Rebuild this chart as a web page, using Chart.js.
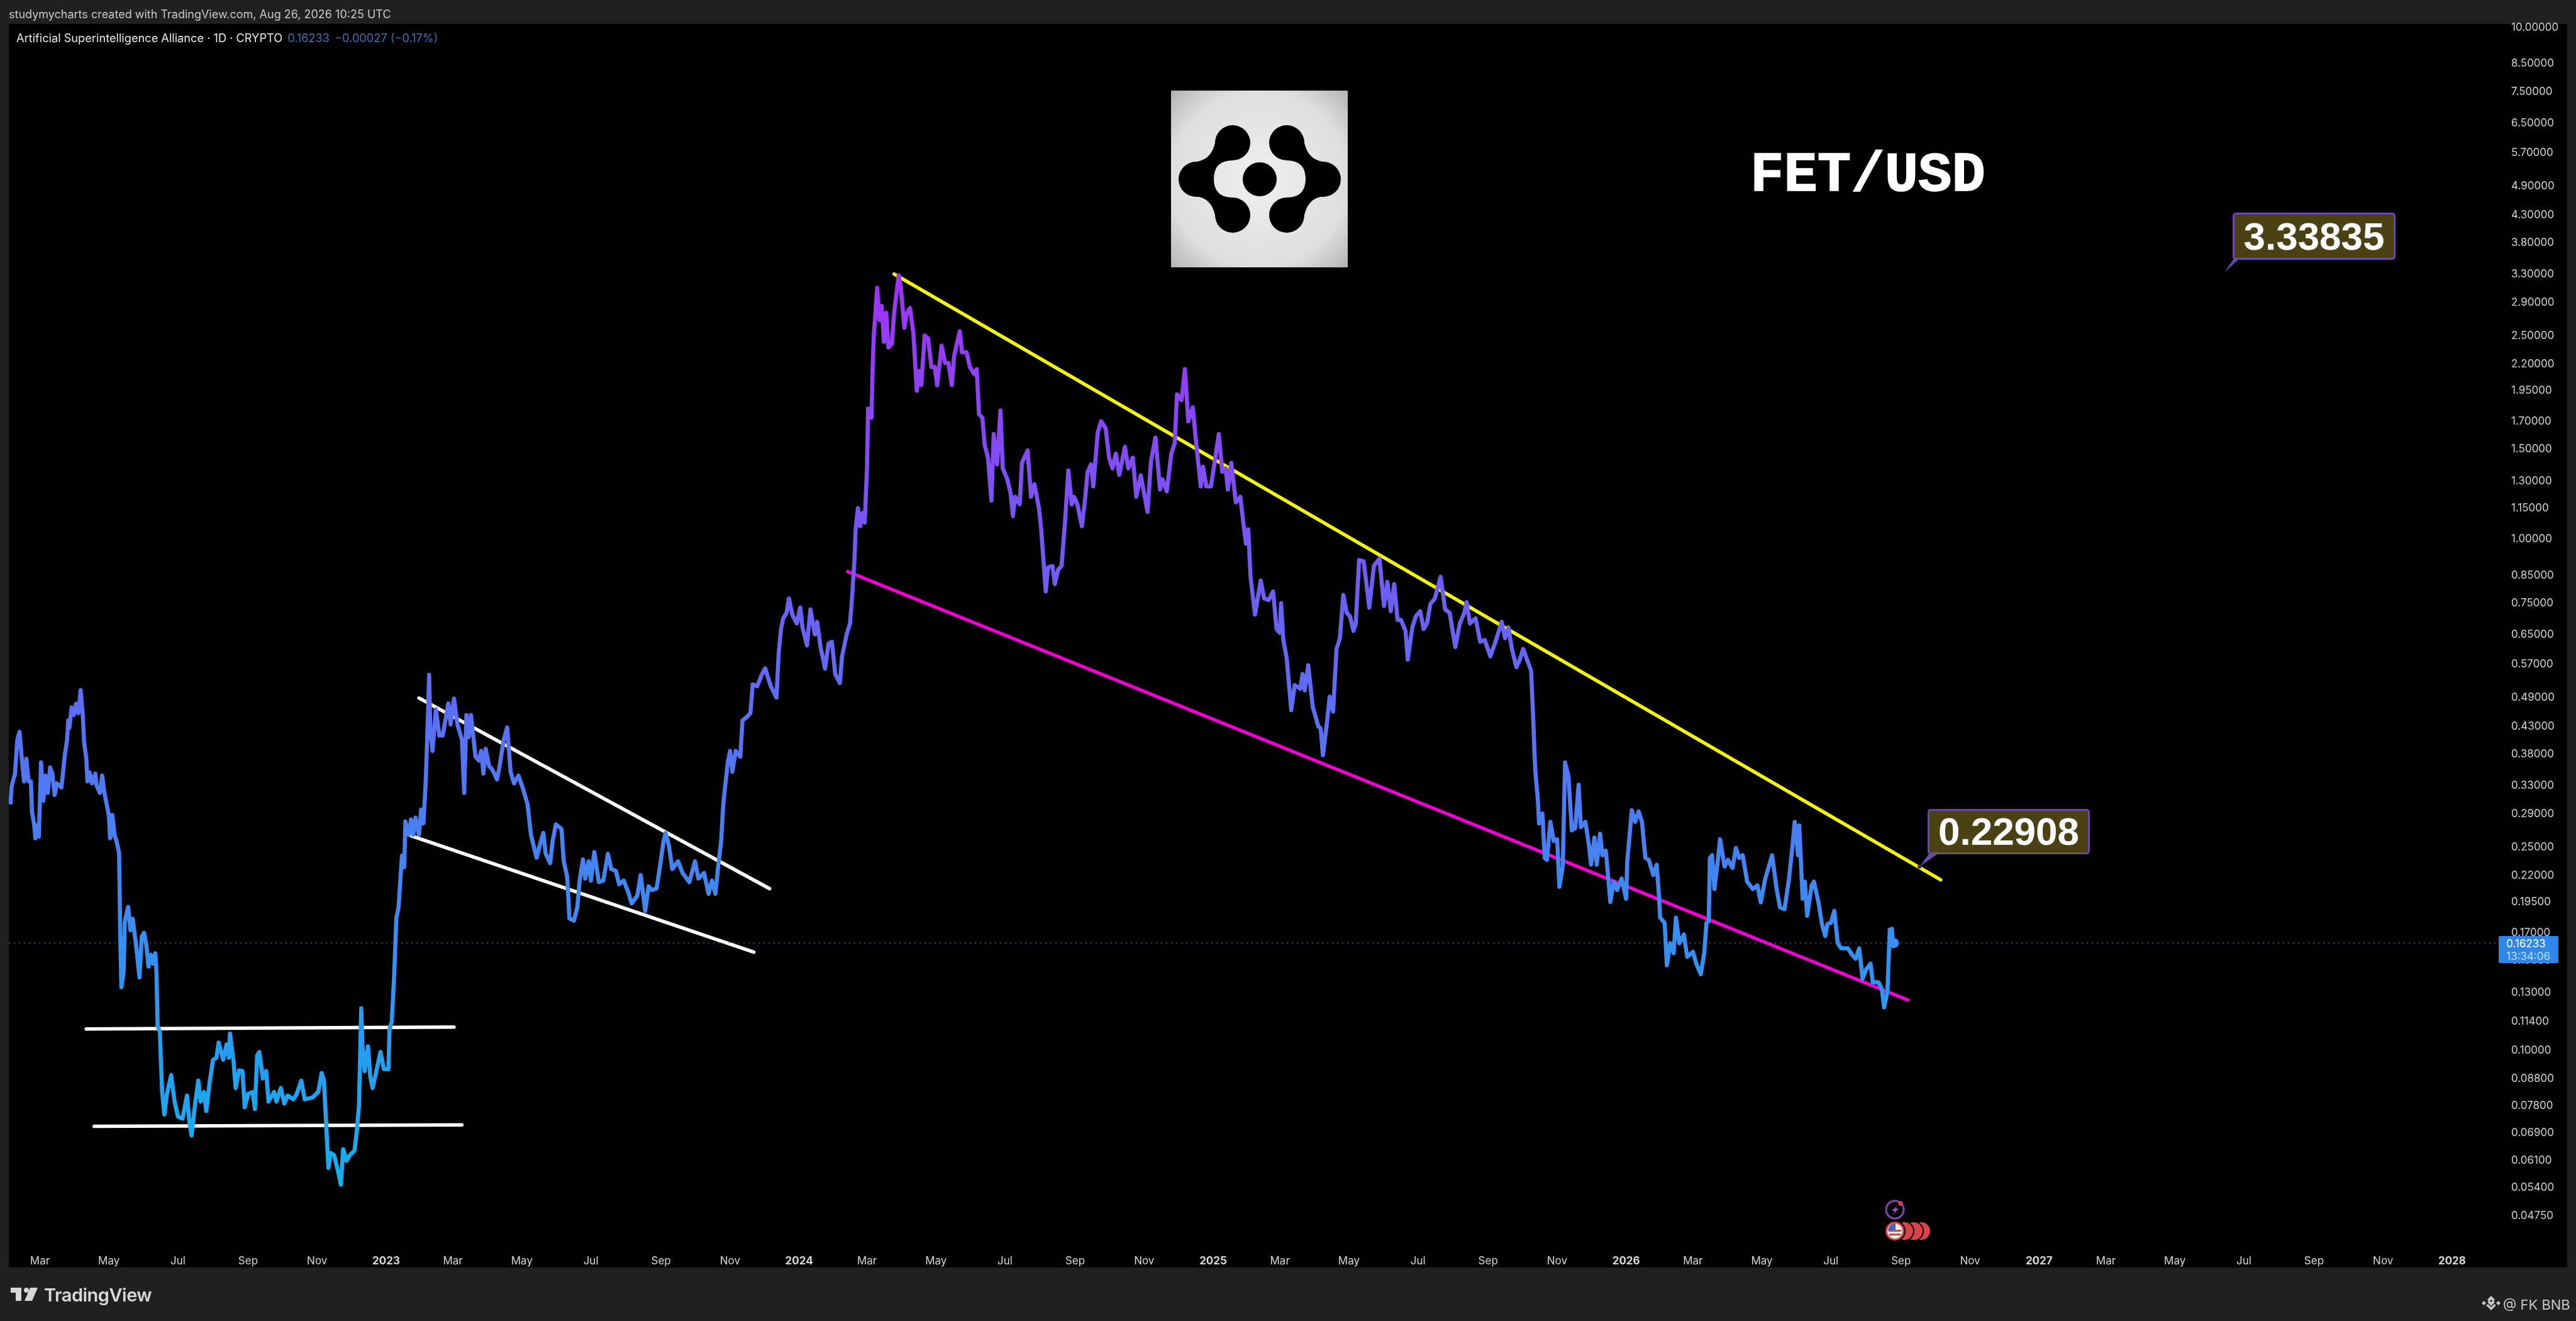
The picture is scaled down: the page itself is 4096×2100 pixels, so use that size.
<!DOCTYPE html>
<html>
<head>
<meta charset="utf-8">
<title>FET/USD</title>
<script src="https://cdn.jsdelivr.net/npm/chart.js@4/dist/chart.umd.min.js"></script>
<style>
    html, body { margin: 0; padding: 0; background: #202020; width: 4096px; height: 2100px; overflow: hidden; font-family: 'Inter', sans-serif; }
    #panel { position: absolute; left: 14px; top: 38px; width: 4068px; height: 1977px; background: #000; }
    #priceChart { position: absolute; left: 0; top: 0; }
    .txt { position: absolute; white-space: nowrap; }
    #createdBy { left: 14px; top: 12px; font-size: 18px; color: #c9c9c9; }
    #legend { left: 26px; top: 49px; font-size: 18.2px; color: #e8e8e8; }
    #legend span { color: #3f6fb4; margin-left: 8px; }
    #pairTitle { left: 2783px; top: 229px; font-family: 'Liberation Mono', monospace; font-weight: 700; font-size: 89px; color: #fff; -webkit-text-stroke: 1.5px #fff; }
    .callout { position: absolute; box-sizing: border-box; background: #4a4114; border: 3px solid #6a48a8; border-radius: 5px; color: #fff; font-family: 'Liberation Sans', sans-serif; font-weight: 700; font-size: 62px; text-align: center; }
    #calloutLow { left: 3065px; top: 1286px; width: 258px; height: 72px; line-height: 66px; }
    #calloutHigh { left: 3550px; top: 338px; width: 259px; height: 75px; line-height: 69px; }
    #priceTag { position: absolute; left: 3973px; top: 1488px; width: 95px; height: 43px; background: #2f86e8; border-radius: 2px; font-size: 17px; line-height: 20px; color: #fff; padding-left: 12px; box-sizing: border-box; padding-top: 2px; }
    #priceTag div + div { color: #bcdcff; }
    #tvName { left: 70px; top: 2041px; font-size: 29px; font-weight: 600; color: #d8d8d8; letter-spacing: -0.5px; }
    #credit { left: 3980px; top: 2061px; font-size: 22px; color: #c8c8c8; }
    svg.overlay { position: absolute; left: 0; top: 0; }
</style>
</head>
<body>
<div id="panel"></div>
<canvas id="priceChart" width="4096" height="2100"></canvas>

<svg class="overlay" width="4096" height="2100" viewBox="0 0 4096 2100">
    <defs>
        <radialGradient id="logoBg" cx="50%" cy="50%" r="72%">
            <stop offset="0%" stop-color="#f0f0f0"/>
            <stop offset="70%" stop-color="#dedede"/>
            <stop offset="100%" stop-color="#b0b0b0"/>
        </radialGradient>
        <path id="logoArm" d="M70 83 Q64 110 40 113 L68 141 Q68 111 98 111 Z" fill="#000"/>
    </defs>
    <!-- logo -->
    <g transform="translate(1862 144)">
        <rect width="281" height="281" fill="url(#logoBg)"/>
        <use href="#logoArm"/>
        <use href="#logoArm" transform="translate(282 0) scale(-1 1)"/>
        <use href="#logoArm" transform="translate(0 281) scale(1 -1)"/>
        <use href="#logoArm" transform="translate(282 281) scale(-1 -1)"/>
        <g fill="#000">
            <circle cx="98" cy="83" r="28"/><circle cx="184" cy="83" r="28"/>
            <circle cx="98" cy="198" r="28"/><circle cx="184" cy="198" r="28"/>
            <circle cx="40" cy="141" r="28"/><circle cx="242" cy="141" r="28"/>
            <circle cx="141" cy="141" r="27"/>
        </g>
    </g>
    <!-- callout tails -->
    <polygon points="3052,1378 3068,1356 3083,1356" fill="#6a48a8"/>
    <circle cx="3052" cy="1378" r="3" fill="#3a2a70"/>
    <polygon points="3537,433 3552,411 3561,411" fill="#6a48a8"/>
    <!-- event icons -->
    <circle cx="3013" cy="1923" r="14" fill="#000" stroke="#8a45b0" stroke-width="3"/>
    <path d="M3018 1915 L3008 1925 L3013 1925 L3009 1932 L3019 1921 L3014 1921 Z" fill="#9a50c8"/>
    <circle cx="3022" cy="1913" r="3.5" fill="#e8404a"/>
    <g fill="#d9444a" stroke="#000" stroke-width="2">
        <circle cx="3055" cy="1957" r="15"/>
        <circle cx="3043" cy="1957" r="15"/>
        <circle cx="3028" cy="1957" r="15"/>
    </g>
    <circle cx="3013" cy="1957" r="16" fill="#d9444a" stroke="#000" stroke-width="2"/>
    <g>
        <circle cx="3013" cy="1957" r="12" fill="#f2e9e9"/>
        <rect x="3003" y="1955" width="20" height="3" fill="#d9444a"/>
        <rect x="3004" y="1961" width="18" height="3" fill="#d9444a"/>
        <path d="M3002 1956 A12 12 0 0 1 3014 1945 L3014 1956 Z" fill="#3a66c8"/>
    </g>
    <!-- TradingView mark -->
    <g fill="#d8d8d8">
        <path d="M17 2047 H34 V2068 H25 V2055 H17 Z"/>
        <circle cx="42" cy="2051" r="4"/>
        <path d="M48 2047 H60 L51 2068 H39 Z"/>
    </g>
    <!-- credit mark -->
    <g fill="#c8c8c8">
        <path d="M3961 2060 L3967 2066 L3964 2069 L3961 2066 L3958 2069 L3955 2066 Z"/>
        <path d="M3961 2076 L3955 2070 L3958 2067 L3961 2070 L3964 2067 L3967 2070 Z"/>
        <path d="M3961 2083 L3953 2075 L3956 2073 L3961 2078 L3966 2073 L3969 2075 Z"/>
        <rect x="3947" y="2069" width="5" height="5" transform="rotate(45 3949.5 2071.5)"/>
        <rect x="3970" y="2069" width="5" height="5" transform="rotate(45 3972.5 2071.5)"/>
    </g>
</svg>

<div id="createdBy" class="txt">studymycharts created with TradingView.com, Aug 26, 2026 10:25 UTC</div>
<div id="legend" class="txt">Artificial Superintelligence Alliance · 1D · CRYPTO<span>0.16233</span><span>−0.00027 (−0.17%)</span></div>
<div id="pairTitle" class="txt">FET/USD</div>
<div id="calloutLow" class="callout">0.22908</div>
<div id="calloutHigh" class="callout">3.33835</div>
<div id="priceTag"><div>0.16233</div><div>13:34:06</div></div>
<div id="tvName" class="txt">TradingView</div>
<div id="credit" class="txt">@ FK BNB</div>

<script>
// days counted from 2023-01-01, prices in USD
const days = [
    -332,-331,-328,-326,-324,-322,-320,-318,-316,-314,
    -313,-311,-310,-308,-307,-305,-303,-301,-299,-297,
    -295,-293,-291,-287,-284,-282,-281,-280,-278,-276,
    -274,-272,-270,-268,-267,-265,-264,-262,-260,-257,
    -256,-253,-251,-249,-247,-245,-244,-243,-242,-240,
    -238,-236,-235,-234,-232,-231,-230,-228,-226,-224,
    -222,-221,-218,-216,-214,-212,-210,-208,-206,-204,
    -203,-202,-200,-198,-196,-194,-190,-187,-184,-180,
    -176,-174,-172,-169,-166,-164,-161,-159,-156,-153,
    -150,-148,-144,-141,-139,-138,-135,-133,-130,-127,
    -125,-122,-118,-116,-114,-112,-109,-106,-104,-99,
    -97,-93,-90,-87,-82,-79,-75,-72,-65,-60,
    -57,-55,-53,-51,-49,-46,-42,-40,-38,-35,
    -32,-28,-26,-24,-22,-21,-19,-16,-14,-12,
    -9,-5,-2,2,3,5,7,8,9,11,
    14,16,17,20,22,24,26,29,31,33,
    35,37,38,39,41,44,47,50,55,57,
    60,63,67,69,71,73,75,79,82,84,
    86,88,91,94,98,100,104,107,110,113,
    117,121,125,128,133,136,139,141,145,147,
    150,155,157,160,162,166,169,171,174,176,
    179,181,184,188,192,196,199,203,206,210,
    214,217,222,225,229,232,235,239,242,245,
    247,250,253,258,262,268,273,276,281,285,
    288,291,294,296,298,299,302,304,306,309,
    313,315,319,322,324,328,332,335,340,345,
    347,349,351,354,356,359,363,366,368,372,
    375,379,381,384,388,391,394,397,401,403,
    407,410,412,414,415,417,419,421,423,425,
    426,429,430,431,434,436,438,440,442,444,
    447,449,453,455,458,460,463,466,469,471,
    473,476,479,482,485,487,491,494,497,500,
    502,507,509,513,516,520,522,524,527,529,
    532,535,537,540,543,545,549,552,554,556,
    560,562,567,570,573,577,579,583,585,589,
    591,594,597,600,603,606,608,611,615,618,
    620,623,625,629,632,636,639,642,645,648,
    653,656,660,663,667,673,676,680,684,686,
    690,694,697,699,703,706,709,713,715,720,
    722,725,729,732,736,739,742,744,747,751,
    755,758,760,762,764,768,773,776,780,784,
    787,790,791,793,796,800,803,808,810,812,
    815,819,824,826,828,831,834,837,840,843,
    846,849,852,855,857,860,864,869,873,878,
    882,885,888,891,894,897,901,903,907,910,
    914,917,920,923,927,932,936,940,945,949,
    953,955,958,963,967,971,976,980,986,989,
    992,995,999,1002,1005,1008,1012,1014,1015,1016,
    1018,1019,1022,1024,1026,1029,1032,1035,1037,1040,
    1042,1045,1048,1051,1054,1056,1060,1063,1065,1068,
    1070,1073,1075,1078,1080,1082,1085,1088,1092,1096,
    1097,1101,1104,1107,1110,1113,1116,1120,1123,1125,
    1126,1130,1132,1135,1138,1140,1143,1147,1150,1155,
    1158,1162,1165,1167,1169,1170,1172,1174,1177,1179,
    1183,1186,1190,1193,1196,1199,1203,1208,1212,1215,
    1219,1225,1229,1232,1236,1240,1243,1245,1248,1249,
    1252,1254,1256,1260,1262,1266,1269,1272,1274,1277,
    1280,1283,1286,1292,1296,1299,1302,1305,1308,1312,
    1314,1319,1322,1324,1327,1329,1330,1331,1332,1333
];

const prices = [
    .303,.329,.348,.405,.420,.372,.336,.372,.336,.336,
    .293,.276,.260,.276,.262,.366,.308,.345,.319,.358,
    .348,.316,.333,.327,.378,.405,.442,.427,.469,.453,
    .477,.457,.507,.449,.402,.372,.336,.350,.333,.348,
    .330,.319,.345,.319,.303,.288,.260,.264,.289,.264,
    .255,.243,.169,.133,.1425,.178,.183,.191,.172,.181,
    .167,.161,.139,.167,.170,.161,.146,.154,.148,.155,
    .1425,.112,.1085,.083,.075,.0817,.0896,.0795,.0743,.0736,
    .0817,.073,.0682,.0782,.0874,.0795,.083,.0762,.0866,.096,
    .0968,.1037,.096,.1029,.0968,.108,.096,.0845,.0915,.0912,
    .0775,.0823,.083,.0769,.0978,.0994,.0882,.0912,.0795,.083,
    .0795,.0845,.0788,.0817,.0803,.0823,.0874,.0803,.081,.083,
    .0904,.0874,.0718,.059,.0631,.0625,.0574,.0547,.0642,.0609,
    .0625,.0637,.0693,.0782,.121,.1029,.0912,.102,.0889,.0845,
    .0904,.0994,.092,.092,.1102,.114,.1389,.158,.1813,.1908,
    .2405,.2285,.2806,.2642,.283,.2642,.2854,.2642,.296,.2782,
    .3359,.453,.543,.427,.3855,.465,.413,.413,.4775,.4344,
    .488,.4344,.4055,.319,.453,.41,.453,.3755,.369,.3855,
    .348,.389,.36,.354,.339,.357,.4055,.4285,.351,.333,
    .345,.325,.303,.2642,.2384,.253,.2665,.2425,.2325,.2553,
    .277,.2712,.2345,.2188,.1813,.1795,.1908,.215,.2365,.217,
    .2345,.215,.2445,.2135,.215,.2425,.2265,.2245,.2115,.215,
    .204,.194,.2008,.2205,.1875,.2095,.206,.2075,.2285,.2553,
    .2665,.251,.2265,.2345,.2225,.2135,.2345,.217,.2225,.2025,
    .215,.2025,.2345,.2553,.303,.319,.366,.3855,.351,.3855,
    .3755,.442,.4495,.457,.52,.5157,.543,.559,.5157,.49,
    .60,.667,.70,.718,.766,.712,.684,.735,.672,.62,
    .729,.651,.689,.615,.558,.625,.63,.544,.523,.59,
    .651,.684,.778,.916,1.048,1.15,1.06,1.125,1.077,1.375,
    1.8,1.727,2.17,2.49,3.1,2.68,2.858,2.43,2.77,2.37,
    2.41,2.77,3.28,3.1,2.59,2.76,2.83,2.53,1.95,2.13,
    2.0,2.5,2.47,2.17,2.17,2.0,2.39,2.21,2.21,2.0,
    2.28,2.55,2.32,2.32,2.17,2.1,2.15,1.755,1.727,1.53,
    1.44,1.19,1.605,1.4,1.785,1.375,1.31,1.227,1.11,1.21,
    1.169,1.41,1.491,1.21,1.28,1.15,1.045,.79,.88,.886,
    .817,.872,.886,1.077,1.363,1.169,1.21,1.169,1.06,1.21,
    1.353,1.4,1.268,1.618,1.7,1.645,1.443,1.375,1.47,1.335,
    1.515,1.375,1.443,1.21,1.333,1.13,1.42,1.58,1.25,1.31,
    1.24,1.47,1.54,1.92,1.87,2.15,1.7,1.81,1.618,1.268,
    1.385,1.268,1.268,1.4,1.605,1.354,1.375,1.25,1.41,1.18,
    1.21,1.06,.98,1.045,.844,.712,.83,.766,.76,.79,
    .667,.656,.75,.635,.585,.463,.518,.51,.545,.506,
    .567,.47,.43,.427,.378,.427,.492,.46,.61,.64,
    .778,.718,.706,.6615,.684,.91,.905,.735,.886,.916,
    .74,.825,.723,.817,.695,.695,.6615,.581,.672,.706,
    .723,.667,.684,.747,.766,.844,.729,.718,.615,.684,
    .718,.753,.684,.70,.63,.635,.59,.625,.689,.64,
    .672,.61,.562,.581,.61,.585,.553,.44,.38,.3465,
    .309,.278,.291,.238,.236,.28,.257,.259,.209,.2296,
    .366,.344,.2695,.272,.331,.2734,.28,.2532,.231,.261,
    .231,.2655,.241,.246,.2205,.1952,.214,.206,.217,.198,
    .2345,.2952,.28,.2935,.28,.238,.236,.2205,.231,.2011,
    .182,.1777,.1468,.1622,.1551,.182,.1622,.1686,.1525,.156,
    .1479,.141,.1551,.1777,.179,.238,.241,.207,.2345,.259,
    .229,.236,.2275,.249,.238,.241,.2138,.207,.2105,.195,
    .2171,.241,.207,.1905,.189,.2171,.2513,.28,.241,.2755,
    .198,.214,.1835,.2105,.214,.195,.177,.1675,.177,.1777,
    .1875,.1622,.1585,.1585,.1536,.1512,.1585,.1382,.144,.1479,
    .136,.136,.132,.1215,.1308,.1725,.1622,.173,.16,.16233
];

// trend lines drawn on the chart: [start, end]
const yellowDays = [449, 1374];
const yellowPrices = [3.299, 0.2157];
const magentaDays = [408, 1345];
const magentaPrices = [0.864, 0.1256];
const rangeTopDays = [-265, 60];
const rangeTopPrices = [0.1102, 0.1112];
const rangeLowDays = [-258, 67];
const rangeLowPrices = [0.0711, 0.0716];
const wedgeTopDays = [29, 339];
const wedgeTopPrices = [0.489, 0.2073];
const wedgeLowDays = [22, 325];
const wedgeLowPrices = [0.263, 0.1558];

const lastPrice = 0.16233;

const xTickDays = [
    -306,-245,-184,-122,-61,0,59,120,181,243,304,365,425,486,547,609,670,731,
    790,851,912,974,1035,1096,1155,1216,1277,1339,1400,1461,1520,1581,1642,1704,1765,1826
];
const xTickLabels = [
    'Mar','May','Jul','Sep','Nov','2023','Mar','May','Jul','Sep','Nov','2024','Mar','May','Jul','Sep','Nov','2025',
    'Mar','May','Jul','Sep','Nov','2026','Mar','May','Jul','Sep','Nov','2027','Mar','May','Jul','Sep','Nov','2028'
];
const yTicks = [
    10, 8.5, 7.5, 6.5, 5.7, 4.9, 4.3, 3.8, 3.3, 2.9, 2.5, 2.2, 1.95, 1.7, 1.5, 1.3, 1.15, 1,
    0.85, 0.75, 0.65, 0.57, 0.49, 0.43, 0.38, 0.33, 0.29, 0.25, 0.22, 0.195, 0.17, 0.15, 0.13,
    0.114, 0.1, 0.088, 0.078, 0.069, 0.061, 0.054, 0.0475
];

const xMin = -333.5;
const xMax = 1864.4;
const yMin = 0.04218;
const yMax = 10.17;

function toPoints(xs, ys) {
    return xs.map((x, i) => ({ x: x, y: ys[i] }));
}

function trendLine(xs, ys, color) {
    return {
        data: toPoints(xs, ys),
        borderColor: color,
        borderWidth: 5.5,
        borderCapStyle: 'round',
        pointRadius: 0
    };
}

// same vertical colour ramp as the area line on TradingView
function priceGradient(context) {
    const chart = context.chart;
    if (!chart.chartArea) return '#5a6ff0';
    const top = chart.scales.y.getPixelForValue(3.3);
    const bottom = chart.scales.y.getPixelForValue(0.055);
    const gradient = chart.ctx.createLinearGradient(0, top, 0, bottom);
    gradient.addColorStop(0, '#A033F5');
    gradient.addColorStop(1, '#12B0F0');
    return gradient;
}

new Chart(document.getElementById('priceChart'), {
    type: 'line',
    data: {
        datasets: [
            {
                data: toPoints([xMin, xMax], [lastPrice, lastPrice]),
                borderColor: 'rgba(80, 125, 210, 0.75)',
                borderWidth: 1.5,
                borderDash: [2, 6],
                pointRadius: 0
            },
            {
                data: toPoints(days, prices),
                borderColor: priceGradient,
                borderWidth: 6.5,
                borderJoinStyle: 'round',
                pointRadius: 0
            },
            trendLine(yellowDays, yellowPrices, '#F5F514'),
            trendLine(magentaDays, magentaPrices, '#F000D0'),
            trendLine(rangeTopDays, rangeTopPrices, '#FFFFFF'),
            trendLine(rangeLowDays, rangeLowPrices, '#FFFFFF'),
            trendLine(wedgeTopDays, wedgeTopPrices, '#FFFFFF'),
            trendLine(wedgeLowDays, wedgeLowPrices, '#FFFFFF'),
            {
                data: toPoints([days[days.length - 1]], [lastPrice]),
                pointRadius: 7.5,
                pointBackgroundColor: '#3A8CEC',
                pointBorderWidth: 0
            }
        ]
    },
    options: {
        responsive: false,
        animation: false,
        events: [],
        layout: { padding: { left: 14, top: 38, right: 14, bottom: 85 } },
        plugins: { legend: { display: false }, tooltip: { enabled: false } },
        scales: {
            x: {
                type: 'linear',
                bounds: 'data',
                min: xMin,
                max: xMax,
                grid: { display: false },
                border: { display: false },
                afterBuildTicks: axis => {
                    axis.ticks = xTickDays.map(v => ({ value: v }));
                },
                afterFit: axis => { axis.height = 40; },
                ticks: {
                    autoSkip: false,
                    maxRotation: 0,
                    padding: 12,
                    color: '#d8d8d8',
                    font: ctx => ({
                        family: 'Inter',
                        size: 17,
                        weight: xTickDays[ctx.index] !== undefined && xTickLabels[ctx.index].startsWith('20') ? 700 : 400
                    }),
                    callback: (value, index) => xTickLabels[index]
                }
            },
            y: {
                type: 'logarithmic',
                position: 'right',
                bounds: 'data',
                min: yMin,
                max: yMax,
                grid: { display: false },
                border: { display: false },
                afterBuildTicks: axis => {
                    axis.ticks = yTicks.map(v => ({ value: v }));
                },
                afterFit: axis => { axis.width = 114; },
                ticks: {
                    autoSkip: false,
                    padding: 17,
                    color: '#d0d0d0',
                    font: { family: 'Inter', size: 17 },
                    callback: value => value.toFixed(5)
                }
            }
        }
    }
});
</script>
</body>
</html>
